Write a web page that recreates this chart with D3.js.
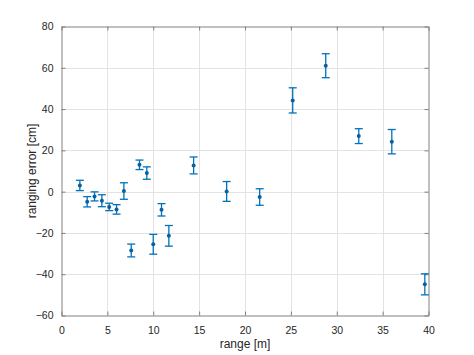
<!DOCTYPE html>
<html><head><meta charset="utf-8">
<script src="https://cdn.jsdelivr.net/npm/d3@7"></script>
<style>body{margin:0;background:#fff}svg{display:block}</style>
</head><body>
<script>
const rangeM = [2.0, 2.8, 3.6, 4.4, 5.2, 6.0, 6.8, 7.6, 8.5, 9.3, 10.0, 10.9, 11.7, 14.4, 18.0, 21.6, 25.2, 28.8, 32.4, 36.0, 39.6];
const errCm  = [3.0, -4.9, -2.3, -4.4, -7.4, -8.6, 0.3, -28.5, 13.0, 9.0, -25.5, -8.8, -21.4, 12.7, 0.1, -2.6, 44.2, 61.0, 26.9, 24.2, -44.9];
const errBar = [2.5, 2.5, 2.2, 2.9, 1.8, 2.3, 4.0, 3.1, 2.3, 3.0, 4.8, 3.0, 5.0, 4.1, 4.8, 4.0, 6.1, 5.8, 3.6, 5.9, 5.1];
const xTicks = [0, 5, 10, 15, 20, 25, 30, 35, 40];
const yTicks = [-60, -40, -20, 0, 20, 40, 60, 80];
const xLabel = "range [m]";
const yLabel = "ranging error [cm]";

const W = 474, H = 355;
const L = 61.5, R = 428.5, T = 26.5, B = 315.5;
const blue = "#0072BD";
const font = "'Liberation Sans', Arial, sans-serif";

const svg = d3.select("body").append("svg").attr("width", W).attr("height", H);
const x = d3.scaleLinear().domain([0, 40]).range([L, R]);
const y = d3.scaleLinear().domain([-60, 80]).range([B, T]);

// grid
const g = svg.append("g");
g.selectAll("line.gx").data(xTicks.slice(1, -1)).join("line")
  .attr("x1", d => Math.round(x(d)) + 0.5).attr("x2", d => Math.round(x(d)) + 0.5)
  .attr("y1", T).attr("y2", B).attr("stroke", "#e3e3e3").attr("stroke-width", 1);
g.selectAll("line.gy").data(yTicks.slice(1, -1)).join("line")
  .attr("y1", d => Math.round(y(d)) + 0.5).attr("y2", d => Math.round(y(d)) + 0.5)
  .attr("x1", L).attr("x2", R).attr("stroke", "#e3e3e3").attr("stroke-width", 1);

// axes
const axCol = "#808080";
const xa = svg.append("g").attr("transform", `translate(0,${B})`)
  .call(d3.axisBottom(x).tickValues(xTicks).tickSizeInner(-4).tickSizeOuter(0).tickPadding(11));
const ya = svg.append("g").attr("transform", `translate(${L},0)`)
  .call(d3.axisLeft(y).tickValues(yTicks).tickSizeInner(-4).tickSizeOuter(0).tickPadding(8));
const xt = svg.append("g").attr("transform", `translate(0,${T})`)
  .call(d3.axisTop(x).tickValues(xTicks).tickSizeInner(-4).tickSizeOuter(0).tickFormat(""));
const yr = svg.append("g").attr("transform", `translate(${R},0)`)
  .call(d3.axisRight(y).tickValues(yTicks).tickSizeInner(-4).tickSizeOuter(0).tickFormat(""));
[xa, ya, xt, yr].forEach(a => {
  a.select(".domain").attr("stroke", axCol);
  a.selectAll(".tick line").attr("stroke", axCol);
  a.selectAll(".tick text").attr("fill", "#262626").attr("font-family", font).attr("font-size", 10.5);
});

// labels
svg.append("text").attr("x", (L + R) / 2).attr("y", 348).attr("text-anchor", "middle")
  .attr("font-family", font).attr("font-size", 12).attr("fill", "#262626").text(xLabel);
svg.append("text").attr("transform", `translate(36,${(T + B) / 2}) rotate(-90)`).attr("text-anchor", "middle")
  .attr("font-family", font).attr("font-size", 12).attr("fill", "#262626").text(yLabel);

// error bars
const data = rangeM.map((r, i) => ({ r, e: errCm[i], s: errBar[i] }));
const eb = svg.append("g").attr("stroke", blue).attr("stroke-width", 1.3).attr("fill", "none");
const cap = 4;
eb.selectAll("line.v").data(data).join("line")
  .attr("x1", d => x(d.r)).attr("x2", d => x(d.r))
  .attr("y1", d => y(d.e + d.s)).attr("y2", d => y(d.e - d.s));
eb.selectAll("line.t").data(data).join("line")
  .attr("x1", d => x(d.r) - cap).attr("x2", d => x(d.r) + cap)
  .attr("y1", d => y(d.e + d.s)).attr("y2", d => y(d.e + d.s));
eb.selectAll("line.b").data(data).join("line")
  .attr("x1", d => x(d.r) - cap).attr("x2", d => x(d.r) + cap)
  .attr("y1", d => y(d.e - d.s)).attr("y2", d => y(d.e - d.s));
svg.append("g").selectAll("circle").data(data).join("circle")
  .attr("cx", d => x(d.r)).attr("cy", d => y(d.e)).attr("r", 2).attr("fill", "#0a5f9e");
</script>
</body></html>
